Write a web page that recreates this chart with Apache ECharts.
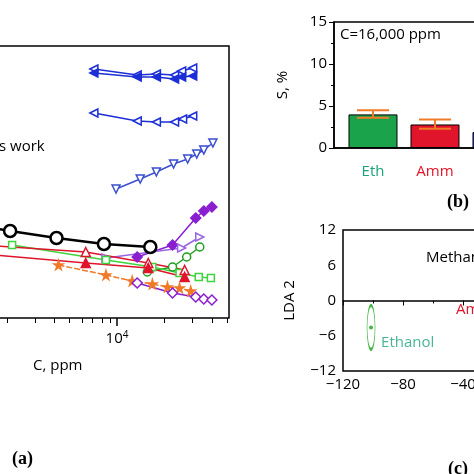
<!DOCTYPE html>
<html>
<head>
<meta charset="utf-8">
<script src="https://cdn.jsdelivr.net/npm/echarts@6/dist/echarts.min.js"></script>
<style>html,body{margin:0;padding:0;background:#fff}#main{width:474px;height:474px}</style>
</head>
<body>
<div id="main"></div>
<script>
// panel (a): concentration, ppm vs response (arbitrary units)
var blackCircles = [[1400, 92], [2092, 87], [4124, 80], [8254, 74], [16270, 71]];
var blueLeftOpen = [[7123, 249], [13430, 243], [17780, 244], [23200, 243], [25730, 247], [30250, 250]];
var blueLeftFilled = [[7123, 245], [13430, 241], [17780, 241], [23200, 239], [25730, 241], [30250, 242]];
var blueLeftMid = [[7123, 205], [13430, 197], [17780, 196], [23200, 196], [26100, 199], [30250, 202]];
var blueDown = [[9853, 129], [14040, 139], [17780, 146], [22860, 154], [28100, 159], [32100, 164], [35590, 168], [40640, 175]];
var purpleFilled = [[13430, 61], [22520, 73], [31620, 100], [35590, 107], [40050, 111]];
var purpleRight = [[8500, 60], [25730, 70], [33550, 81]];
var greenCircles = [[15570, 46], [22520, 51], [27700, 61], [33550, 71]];
var greenSquares = [[2154, 73], [8500, 58], [16770, 51], [24970, 45], [33050, 41], [39470, 40]];
var redOpen = [[1400, 73], [6328, 66], [15800, 55], [26890, 48]];
var redFilled = [[1400, 64], [6328, 55], [15800, 50], [26890, 41]];
var orangeStars = [[4247, 53], [8500, 43], [12480, 37], [16770, 34], [20920, 31], [24970, 30], [29380, 27]];
var purpleOpen = [[13430, 35], [22520, 25], [31620, 21], [35590, 19], [40050, 18]];
var minorTicksA = [2000, 3000, 4000, 5000, 6000, 7000, 8000, 9000, 20000, 30000, 40000, 50000];

// panel (b): sensitivity at 16,000 ppm
var gasNames = ['Eth', 'Amm', 'Ace'];
var gasColors = ['#1aa34a', '#e0142a', '#1c2fd6'];
var sValues = [4.0, 2.8, 1.9];
var sErrLow = [3.6, 2.3, 1.6];
var sErrHigh = [4.5, 3.4, 2.2];

// panel (c): LDA
var ethanolCenter = [[-101.3, -4.6]];

var font = 'Open Sans';
var star = 'path://M50,0 L61,35 L98,35 L68,57 L79,91 L50,70 L21,91 L32,57 L2,35 L39,35 Z';

function line(name, data, color, symbol, opts) {
    var s = {
        name: name, type: 'line', xAxisIndex: 0, yAxisIndex: 0, data: data,
        symbol: symbol, symbolSize: 8, showAllSymbol: true,
        lineStyle: {color: color, width: 1.5},
        itemStyle: {color: color, borderColor: color, borderWidth: 1.5},
        clip: true, z: 3
    };
    if (opts) Object.assign(s, opts);
    return s;
}

var dom = document.getElementById('main');
var myChart = echarts.init(dom);

function fixMinus(v) { return String(v).replace('-', '\u2212'); }

var option = {
    animation: false,
    textStyle: {fontFamily: font},
    grid: [
        {left: -2, top: 46, width: 231, height: 272, show: true, borderColor: '#000', borderWidth: 1.5, outerBoundsMode: 'none'},
        {left: 334, top: 22, width: 200, height: 126, show: true, borderColor: '#000', borderWidth: 1.5, outerBoundsMode: 'none'},
        {left: 343, top: 230, width: 200, height: 141, show: true, borderColor: '#000', borderWidth: 1.5, outerBoundsMode: 'none'}
    ],
    xAxis: [
        {type: 'log', gridIndex: 0, min: 1752, max: 51460, splitLine: {show: false},
            axisLine: {show: false},
            axisTick: {show: true, length: 5, customValues: minorTicksA, lineStyle: {color: '#000'}},
            axisLabel: {show: false}},
        {type: 'log', gridIndex: 0, min: 1752, max: 51460, position: 'bottom', splitLine: {show: false},
            axisLine: {show: false},
            axisTick: {show: true, length: 8, customValues: [10000], lineStyle: {color: '#000', width: 1.5}},
            axisLabel: {customValues: [10000], margin: 12, color: '#000', fontSize: 15,
                formatter: function () { return '10{s|4}'; },
                rich: {s: {fontSize: 10, verticalAlign: 'top', padding: [0, 0, 8, 0], color: '#000'}}}},
        {type: 'value', gridIndex: 1, min: 0.371, max: 3.597, splitLine: {show: false},
            axisLine: {lineStyle: {color: '#000', width: 1.5}},
            axisTick: {show: false},
            axisLabel: {customValues: [1, 2, 3], margin: 16, fontSize: 15,
                formatter: function (v) { var i = Math.round(v) - 1; return '{c' + i + '|' + gasNames[i] + '}'; },
                rich: {c0: {color: '#1aa37a', fontSize: 15}, c1: {color: '#e0142a', fontSize: 15}, c2: {color: '#1c2fd6', fontSize: 15}}}},
        {type: 'value', gridIndex: 2, min: -120, max: 13.33, interval: 40, splitLine: {show: false},
            axisLine: {lineStyle: {color: '#000', width: 1.5}},
            axisTick: {length: 5, lineStyle: {color: '#000'}},
            minorTick: {show: true, splitNumber: 2, length: 3, lineStyle: {color: '#000'}},
            axisLabel: {color: '#000', fontSize: 15, margin: 6, formatter: fixMinus}}
    ],
    yAxis: [
        {type: 'value', gridIndex: 0, min: 0, max: 272, show: false},
        {type: 'value', gridIndex: 1, min: 0, max: 15, interval: 5, splitLine: {show: false},
            name: 'S, %', nameLocation: 'middle', nameGap: 44, nameTextStyle: {color: '#000', fontSize: 15},
            axisLine: {show: true, lineStyle: {color: '#000', width: 1.5}},
            axisTick: {show: true, length: 5, lineStyle: {color: '#000'}},
            minorTick: {show: true, splitNumber: 2, length: 3, lineStyle: {color: '#000'}},
            axisLabel: {color: '#000', fontSize: 15, margin: 7}},
        {type: 'value', gridIndex: 2, min: -12, max: 12, interval: 6, splitLine: {show: false},
            name: 'LDA 2', nameLocation: 'middle', nameGap: 46, nameTextStyle: {color: '#000', fontSize: 15},
            axisLine: {show: true, lineStyle: {color: '#000', width: 1.5}},
            axisTick: {show: true, length: 5, lineStyle: {color: '#000'}},
            minorTick: {show: true, splitNumber: 2, length: 3, lineStyle: {color: '#000'}},
            axisLabel: {color: '#000', fontSize: 15, margin: 7, formatter: fixMinus}}
    ],
    series: [
        line('black', blackCircles, '#000', 'circle', {symbolSize: 12,
            lineStyle: {color: '#000', width: 2.5},
            itemStyle: {color: '#fff', borderColor: '#000', borderWidth: 2.5}}),
        line('blueOpen', blueLeftOpen, '#1c2fd6', 'triangle', {symbolRotate: 90,
            itemStyle: {color: '#fff', borderColor: '#1c2fd6', borderWidth: 1.5}}),
        line('blueFilled', blueLeftFilled, '#1c2fd6', 'triangle', {symbolRotate: 90}),
        line('blueMid', blueLeftMid, '#1c2fd6', 'triangle', {symbolRotate: 90,
            itemStyle: {color: '#fff', borderColor: '#1c2fd6', borderWidth: 1.5}}),
        line('blueDown', blueDown, '#3a4fd0', 'triangle', {symbolRotate: 180,
            itemStyle: {color: '#fff', borderColor: '#3a4fd0', borderWidth: 1.5}}),
        line('purpleFilled', purpleFilled, '#8a1fd0', 'diamond', {symbolSize: 10}),
        line('purpleRight', purpleRight, '#9a66e0', 'triangle', {symbolRotate: -90,
            itemStyle: {color: '#fff', borderColor: '#9a66e0', borderWidth: 1.5}}),
        line('greenCircles', greenCircles, '#1e9e1e', 'circle', {
            itemStyle: {color: '#fff', borderColor: '#1e9e1e', borderWidth: 1.5}}),
        line('greenSquares', greenSquares, '#3ed43e', 'rect', {symbolSize: 7,
            itemStyle: {color: '#fff', borderColor: '#3ed43e', borderWidth: 1.5}}),
        line('redOpen', redOpen, '#e0142a', 'triangle', {symbolSize: 9,
            itemStyle: {color: '#fff', borderColor: '#e0142a', borderWidth: 1.5}}),
        line('redFilled', redFilled, '#e0142a', 'triangle', {symbolSize: 9}),
        line('orangeStars', orangeStars, '#f07a28', star, {symbolSize: 9,
            lineStyle: {color: '#f07a28', width: 1.5, type: [6, 2]}}),
        line('purpleOpen', purpleOpen, '#8a1fd0', 'diamond', {symbolSize: 10,
            itemStyle: {color: '#fff', borderColor: '#8a1fd0', borderWidth: 1.5}}),
        {
            type: 'bar', xAxisIndex: 2, yAxisIndex: 1, barWidth: 49,
            data: sValues.map(function (v, i) {
                return {value: [i + 1, v], itemStyle: {color: gasColors[i], borderColor: '#000', borderWidth: 1}};
            })
        },
        {
            type: 'custom', xAxisIndex: 2, yAxisIndex: 1, z: 5,
            data: sValues.map(function (v, i) { return [i + 1, sErrLow[i], sErrHigh[i]]; }),
            renderItem: function (params, api) {
                var lo = api.coord([api.value(0), api.value(1)]);
                var hi = api.coord([api.value(0), api.value(2)]);
                var st = {stroke: '#f07a28', lineWidth: 2};
                return {type: 'group', children: [
                    {type: 'line', shape: {x1: lo[0], y1: lo[1], x2: hi[0], y2: hi[1]}, style: st},
                    {type: 'line', shape: {x1: lo[0] - 16, y1: lo[1], x2: lo[0] + 16, y2: lo[1]}, style: st},
                    {type: 'line', shape: {x1: hi[0] - 16, y1: hi[1], x2: hi[0] + 16, y2: hi[1]}, style: st}
                ]};
            }
        },
        {
            type: 'scatter', xAxisIndex: 3, yAxisIndex: 2, data: ethanolCenter,
            symbol: 'circle', symbolSize: [8, 44],
            itemStyle: {color: 'rgba(0,0,0,0)', borderColor: '#1aa31a', borderWidth: 1.5}
        },
        {
            type: 'scatter', xAxisIndex: 3, yAxisIndex: 2, data: ethanolCenter,
            symbol: 'circle', symbolSize: 4, itemStyle: {color: '#1aa31a'},
            label: {show: true, position: [12, 10], formatter: 'Ethanol', color: '#1aa37a', fontSize: 15}
        }
    ],
    graphic: [
        {type: 'text', left: -1, top: 139, style: {text: 's work', fontSize: 15, fill: '#000', fontFamily: font}},
        {type: 'text', left: 33, top: 358, style: {text: 'C, ppm', fontSize: 15, fill: '#000', fontFamily: font}},
        {type: 'text', left: 340, top: 27, style: {text: 'C=16,000 ppm', fontSize: 15, fill: '#000', fontFamily: font}},
        {type: 'text', left: 426, top: 250, style: {text: 'Methanol', fontSize: 15, fill: '#000', fontFamily: font}},
        {type: 'text', left: 456, top: 302, style: {text: 'Ammonia', fontSize: 15, fill: '#e0142a', fontFamily: font}},
        {type: 'text', left: 12, top: 450, style: {text: '(a)', fontSize: 18, fontWeight: 'bold', fill: '#000', fontFamily: 'Liberation Serif'}},
        {type: 'text', left: 447, top: 193, style: {text: '(b)', fontSize: 18, fontWeight: 'bold', fill: '#000', fontFamily: 'Liberation Serif'}},
        {type: 'text', left: 448, top: 460, style: {text: '(c)', fontSize: 18, fontWeight: 'bold', fill: '#000', fontFamily: 'Liberation Serif'}}
    ]
};
myChart.setOption(option, true);
window.addEventListener('resize', function () {
    myChart.resize();
});
</script>
</body>
</html>
